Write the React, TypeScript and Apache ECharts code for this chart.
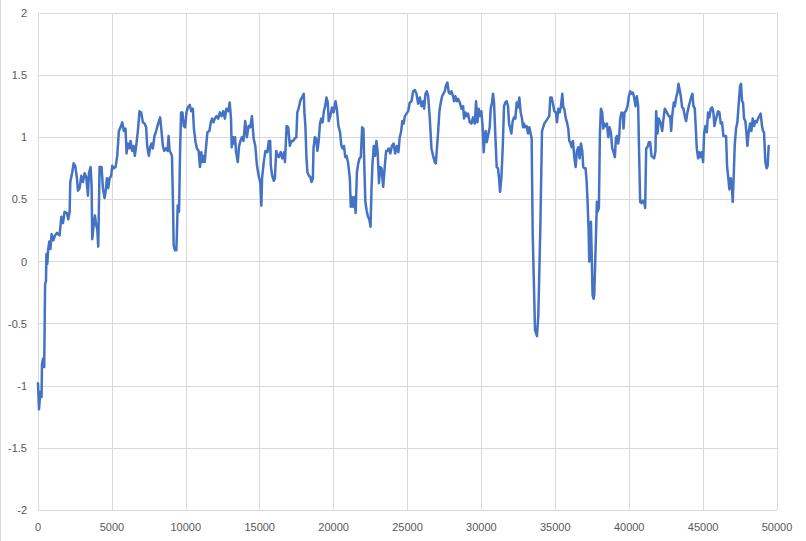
import React, { useEffect, useRef } from "react";
import * as echarts from "echarts";

// x-axis ticks
const xTicks = [0, 5000, 10000, 15000, 20000, 25000, 30000, 35000, 40000, 45000, 50000];
const yTicks = [-2, -1.5, -1, -0.5, 0, 0.5, 1, 1.5, 2];

// series samples [x, value]
const part1: [number, number][] = [
  [0, -0.98], [68, -1.19], [158, -1.05], [240, -1.09], [270, -0.83], [340, -0.78], [420, -0.85],
  [480, -0.18], [540, -0.16], [570, 0.06], [630, -0.02], [690, 0.1], [760, 0.16], [840, 0.1],
  [920, 0.22], [1040, 0.17], [1150, 0.21], [1280, 0.23], [1460, 0.21], [1580, 0.36], [1690, 0.31],
  [1800, 0.4], [1960, 0.39], [2050, 0.34], [2140, 0.4], [2184, 0.64], [2320, 0.72], [2410, 0.79],
  [2522, 0.77], [2635, 0.67], [2702, 0.57], [2815, 0.59], [2928, 0.69], [3040, 0.64], [3153, 0.71],
  [3265, 0.68], [3378, 0.53], [3446, 0.71], [3558, 0.76], [3626, 0.61], [3671, 0.18], [3761, 0.29],
  [3851, 0.37], [3941, 0.29], [4009, 0.26], [4076, 0.12], [4166, 0.76], [4301, 0.76], [4391, 0.59],
  [4504, 0.51], [4572, 0.56], [4662, 0.67], [4752, 0.59], [4842, 0.67], [4954, 0.69], [5022, 0.77],
  [5134, 0.75], [5247, 0.76], [5360, 0.85], [5472, 1.05], [5585, 1.08], [5698, 1.12], [5810, 1.05],
  [5923, 1.07], [5990, 0.87], [6080, 0.95], [6193, 0.91], [6261, 0.97], [6373, 0.89], [6463, 0.93],
  [6553, 0.85], [6643, 0.93], [6756, 1.05], [6869, 1.21], [6981, 1.2], [7094, 1.12], [7206, 1.11],
  [7319, 1.08], [7387, 0.93], [7499, 0.85], [7589, 0.92], [7679, 0.95], [7769, 0.91], [7882, 1.01],
  [7995, 1.05],
];

const part2: [number, number][] = [
  [8037, 1.07], [8128, 1.11], [8265, 1.16], [8356, 1.05], [8448, 0.93], [8539, 0.89], [8653, 0.91],
  [8767, 0.89], [8836, 1.01], [8904, 0.89], [8995, 0.87], [9064, 0.85], [9132, 0.48], [9178, 0.13],
  [9269, 0.09], [9361, 0.09], [9406, 0.26], [9452, 0.45], [9543, 0.4], [9612, 0.88], [9680, 1.2],
  [9772, 1.2], [9863, 1.09], [9954, 1.08], [10046, 1.2], [10137, 1.24], [10274, 1.26], [10365, 1.21],
  [10479, 1.23], [10548, 1.07], [10662, 0.96], [10753, 0.91], [10868, 0.89], [10959, 0.76],
  [11050, 0.88], [11119, 0.8], [11187, 0.85], [11278, 0.8], [11393, 0.95], [11461, 1.04],
  [11598, 1.05], [11689, 1.12], [11781, 1.15], [11872, 1.12], [11963, 1.15], [12078, 1.17],
  [12192, 1.15], [12306, 1.2], [12420, 1.17], [12534, 1.21], [12648, 1.15], [12740, 1.23],
  [12877, 1.21], [12968, 1.28], [13059, 1.15], [13105, 0.92], [13196, 1.0], [13265, 0.95],
  [13333, 1.0], [13402, 0.88], [13516, 0.8], [13607, 0.93], [13698, 0.97], [13790, 1.0],
  [13904, 0.97], [14018, 1.13], [14132, 1.0], [14246, 1.09], [14361, 1.08], [14475, 1.17],
  [14589, 0.99], [14703, 0.93], [14817, 0.77], [14931, 0.69], [15045, 0.63], [15114, 0.45],
  [15160, 0.67], [15274, 0.8], [15388, 0.89], [15525, 0.88], [15616, 0.97], [15708, 0.97],
  [15753, 0.77], [15845, 0.69], [15959, 0.65], [16027, 0.67], [16119, 0.89], [16210, 0.85],
  [16301, 0.84], [16415, 0.88], [16530, 0.83], [16644, 0.88],
];

const part3: [number, number][] = [
  [16710, 0.8], [16820, 1.09], [16930, 1.08], [17039, 0.93], [17149, 0.97], [17259, 0.97],
  [17368, 0.99], [17478, 1.0], [17544, 1.2], [17632, 1.23], [17719, 1.28], [17807, 1.31],
  [17895, 1.33], [17982, 1.35], [18026, 1.2], [18092, 1.09], [18158, 0.85], [18224, 0.72],
  [18333, 0.69], [18421, 0.68], [18509, 0.64], [18596, 0.67], [18640, 0.91], [18728, 1.0],
  [18816, 0.99], [18904, 0.89], [18991, 0.97], [19079, 1.11], [19167, 1.15], [19254, 1.12],
  [19342, 1.21], [19430, 1.25], [19518, 1.32], [19605, 1.28], [19671, 1.13], [19781, 1.17],
  [19890, 1.24], [20000, 1.2], [20132, 1.29], [20219, 1.23], [20329, 1.09], [20439, 1.04],
  [20526, 0.93], [20614, 0.91], [20702, 0.93], [20789, 0.84], [20877, 0.85], [20987, 0.79],
  [21097, 0.67], [21162, 0.44], [21228, 0.52], [21316, 0.44], [21404, 0.52], [21491, 0.39],
  [21579, 0.72], [21667, 0.79], [21754, 0.83], [21842, 0.84], [21930, 1.08], [22018, 1.07],
  [22083, 0.75], [22149, 0.48], [22237, 0.41], [22325, 0.36], [22412, 0.34], [22500, 0.28],
  [22566, 0.59], [22632, 0.79], [22719, 0.93], [22807, 0.85], [22895, 0.97], [22982, 0.88],
  [23070, 0.63], [23158, 0.76], [23246, 0.75], [23355, 0.6], [23465, 0.77], [23553, 0.89],
  [23640, 0.89], [23728, 0.91], [23838, 0.87], [23947, 0.93], [24057, 0.95], [24167, 0.87],
  [24276, 0.93], [24386, 0.88], [24474, 1.0], [24561, 1.04], [24649, 1.13], [24737, 1.11],
  [24825, 1.17],
];

const part4: [number, number][] = [
  [25045, 1.21], [25158, 1.28], [25270, 1.29], [25383, 1.37], [25495, 1.38], [25608, 1.35],
  [25721, 1.27], [25833, 1.32], [25946, 1.25], [26058, 1.29], [26126, 1.23], [26216, 1.35],
  [26306, 1.37], [26396, 1.33], [26509, 1.15], [26621, 0.91], [26734, 0.85], [26846, 0.8],
  [26914, 0.79], [27004, 0.93], [27071, 1.04], [27162, 1.21], [27252, 1.28], [27342, 1.33],
  [27432, 1.35], [27522, 1.37], [27612, 1.42], [27702, 1.44], [27792, 1.36], [27883, 1.35],
  [27973, 1.37], [28085, 1.33], [28153, 1.29], [28243, 1.33], [28333, 1.29], [28423, 1.31],
  [28536, 1.28], [28648, 1.23], [28761, 1.25], [28828, 1.15], [28918, 1.2], [29009, 1.17],
  [29099, 1.19], [29211, 1.12], [29324, 1.11], [29436, 1.16], [29549, 1.11], [29639, 1.29],
  [29729, 1.12], [29819, 1.23], [29909, 1.17], [29999, 1.21], [30090, 1.07], [30157, 0.88],
  [30225, 1.01], [30292, 1.05], [30360, 0.96], [30450, 1.01], [30562, 1.08], [30630, 1.23],
  [30720, 1.28], [30787, 1.35], [30855, 1.28], [30945, 1.01], [31035, 0.76], [31125, 0.75],
  [31193, 0.67], [31261, 0.56], [31351, 0.67], [31441, 0.91], [31531, 1.25], [31621, 1.28],
  [31711, 1.29], [31801, 1.25], [31869, 1.11], [31936, 1.08], [32026, 1.03], [32116, 1.13],
  [32206, 1.16], [32297, 1.15], [32387, 1.28], [32477, 1.24], [32567, 1.32], [32657, 1.2],
  [32747, 1.15], [32814, 1.08], [32882, 1.11], [32972, 1.08], [33062, 1.09], [33152, 1.03],
  [33242, 1.08], [33332, 1.03], [33400, 0.99], [33470, 0.23], [33626, -0.55], [33761, -0.6],
  [33849, -0.44], [33985, 0.26], [34100, 1.05],
];

const part5: [number, number][] = [
  [34257, 1.11], [34369, 1.13], [34482, 1.15], [34595, 1.17], [34662, 1.32], [34752, 1.32],
  [34842, 1.27], [34932, 1.21], [35045, 1.2], [35113, 1.12], [35203, 1.23], [35293, 1.2],
  [35383, 1.25], [35473, 1.35], [35540, 1.24], [35608, 1.23], [35698, 1.16], [35788, 1.12],
  [35878, 1.07], [35946, 0.97], [36013, 0.96], [36103, 0.92], [36194, 0.97], [36284, 0.84],
  [36374, 0.76], [36464, 0.89], [36554, 0.92], [36644, 0.83], [36734, 0.95], [36824, 0.89],
  [36892, 0.76], [36959, 0.75], [37049, 0.75], [37117, 0.65], [37184, 0.48], [37252, 0.26],
  [37297, 0.0], [37342, 0.29], [37410, 0.32], [37455, 0.1], [37522, -0.27], [37590, -0.3],
  [37635, -0.27], [37702, 0.0], [37770, 0.29], [37815, 0.48], [37860, 0.4], [37950, 0.43],
  [38018, 1.03], [38085, 1.23], [38175, 1.2], [38243, 1.07], [38310, 1.11], [38400, 1.09],
  [38490, 1.11], [38581, 1.0], [38671, 1.08], [38761, 1.04], [38851, 0.91], [38941, 0.88],
  [39031, 0.84], [39098, 0.99], [39166, 1.01], [39256, 0.95], [39324, 1.01], [39391, 1.15],
  [39481, 1.2], [39571, 1.19], [39616, 1.07], [39684, 1.2], [39774, 1.21], [39887, 1.25],
  [39977, 1.33], [40067, 1.37], [40157, 1.35], [40247, 1.36], [40337, 1.32], [40427, 1.25],
  [40517, 1.33], [40607, 1.25], [40675, 0.85], [40742, 0.48], [40833, 0.47], [40923, 0.49],
  [41013, 0.48], [41080, 0.43], [41148, 0.91], [41238, 0.92], [41328, 0.96], [41418, 0.96],
  [41508, 0.85], [41598, 0.84], [41688, 0.83], [41778, 0.89], [41823, 1.21], [41913, 1.03],
  [42003, 1.15],
];

const part6: [number, number][] = [
  [42140, 1.11], [42230, 1.05], [42320, 1.15], [42410, 1.23], [42500, 1.21], [42590, 1.19],
  [42680, 1.17], [42771, 1.17], [42838, 1.05], [42906, 1.17], [43018, 1.28], [43086, 1.25],
  [43176, 1.32], [43266, 1.36], [43334, 1.43], [43401, 1.39], [43491, 1.33], [43581, 1.24],
  [43671, 1.23], [43761, 1.17], [43851, 1.13], [43942, 1.2], [44032, 1.25], [44122, 1.29],
  [44212, 1.33], [44279, 1.35], [44347, 1.25], [44437, 1.23], [44504, 1.08], [44572, 0.91],
  [44662, 0.83], [44730, 0.88], [44820, 0.84], [44910, 0.88], [45000, 0.8], [45068, 1.03],
  [45158, 1.09], [45248, 1.04], [45338, 1.2], [45428, 1.16], [45518, 1.23], [45608, 1.24],
  [45698, 1.2], [45766, 1.09], [45833, 1.13], [45923, 1.17], [46013, 1.21], [46103, 1.2],
  [46194, 1.11], [46284, 1.12], [46374, 1.01], [46464, 1.01], [46554, 1.01], [46621, 0.77],
  [46689, 0.69], [46779, 0.58], [46869, 0.67], [46937, 0.63], [47004, 0.48], [47072, 0.69],
  [47139, 0.93], [47229, 1.07], [47319, 1.12], [47410, 1.27], [47500, 1.41], [47567, 1.43],
  [47635, 1.29], [47702, 1.28], [47770, 1.15], [47860, 1.13], [47928, 1.04], [47995, 0.93],
  [48085, 1.04], [48176, 1.11], [48266, 1.05], [48356, 1.15], [48446, 1.09], [48536, 1.13],
  [48626, 1.12], [48716, 1.15], [48806, 1.17], [48896, 1.19], [48986, 1.09], [49054, 1.05],
  [49122, 1.04], [49212, 0.8], [49302, 0.75], [49369, 0.77], [49437, 0.93], [49482, 0.93],
];

const LINE_COLOR = "#4472C4";
const GRID_COLOR = "#D9D9D9";
const LABEL_COLOR = "#595959";
const FONT = "'Liberation Sans', Arial, sans-serif";

export default function App() {
  const ref = useRef<HTMLDivElement | null>(null);

  useEffect(() => {
    if (!ref.current) return;
    const chart = echarts.init(ref.current, undefined, { renderer: "svg" });
    const data = [...part1, ...part2, ...part3, ...part4, ...part5, ...part6];
    chart.setOption({
      animation: false,
      backgroundColor: "#FFFFFF",
      grid: { left: 38, right: 29, top: 13, bottom: 31, containLabel: false },
      xAxis: {
        type: "value",
        min: xTicks[0],
        max: xTicks[xTicks.length - 1],
        interval: xTicks[1] - xTicks[0],
        axisLine: { show: false },
        axisTick: { show: false },
        splitLine: { show: true, lineStyle: { color: GRID_COLOR, width: 1 } },
        axisLabel: {
          color: LABEL_COLOR,
          fontFamily: FONT,
          fontSize: 11,
          margin: 11,
          formatter: (v: number) => String(v),
        },
      },
      yAxis: {
        type: "value",
        min: yTicks[0],
        max: yTicks[yTicks.length - 1],
        interval: yTicks[1] - yTicks[0],
        axisLine: { show: false },
        axisTick: { show: false },
        splitLine: { show: true, lineStyle: { color: GRID_COLOR, width: 1 } },
        axisLabel: {
          color: LABEL_COLOR,
          fontFamily: FONT,
          fontSize: 11,
          margin: 11,
          formatter: (v: number) => String(v),
        },
      },
      graphic: [
        {
          type: "line",
          shape: { x1: 0.5, y1: 0, x2: 0.5, y2: 541 },
          style: { stroke: GRID_COLOR, lineWidth: 1 },
          silent: true,
        },
      ],
      series: [
        {
          type: "line",
          data,
          showSymbol: false,
          symbol: "none",
          lineStyle: { color: LINE_COLOR, width: 2.5, join: "round", cap: "round" },
          itemStyle: { color: LINE_COLOR },
        },
      ],
    });
    return () => chart.dispose();
  }, []);

  return (
    <div
      ref={ref}
      style={{ position: "fixed", left: 0, top: 0, width: 806, height: 541, background: "#fff" }}
    />
  );
}
